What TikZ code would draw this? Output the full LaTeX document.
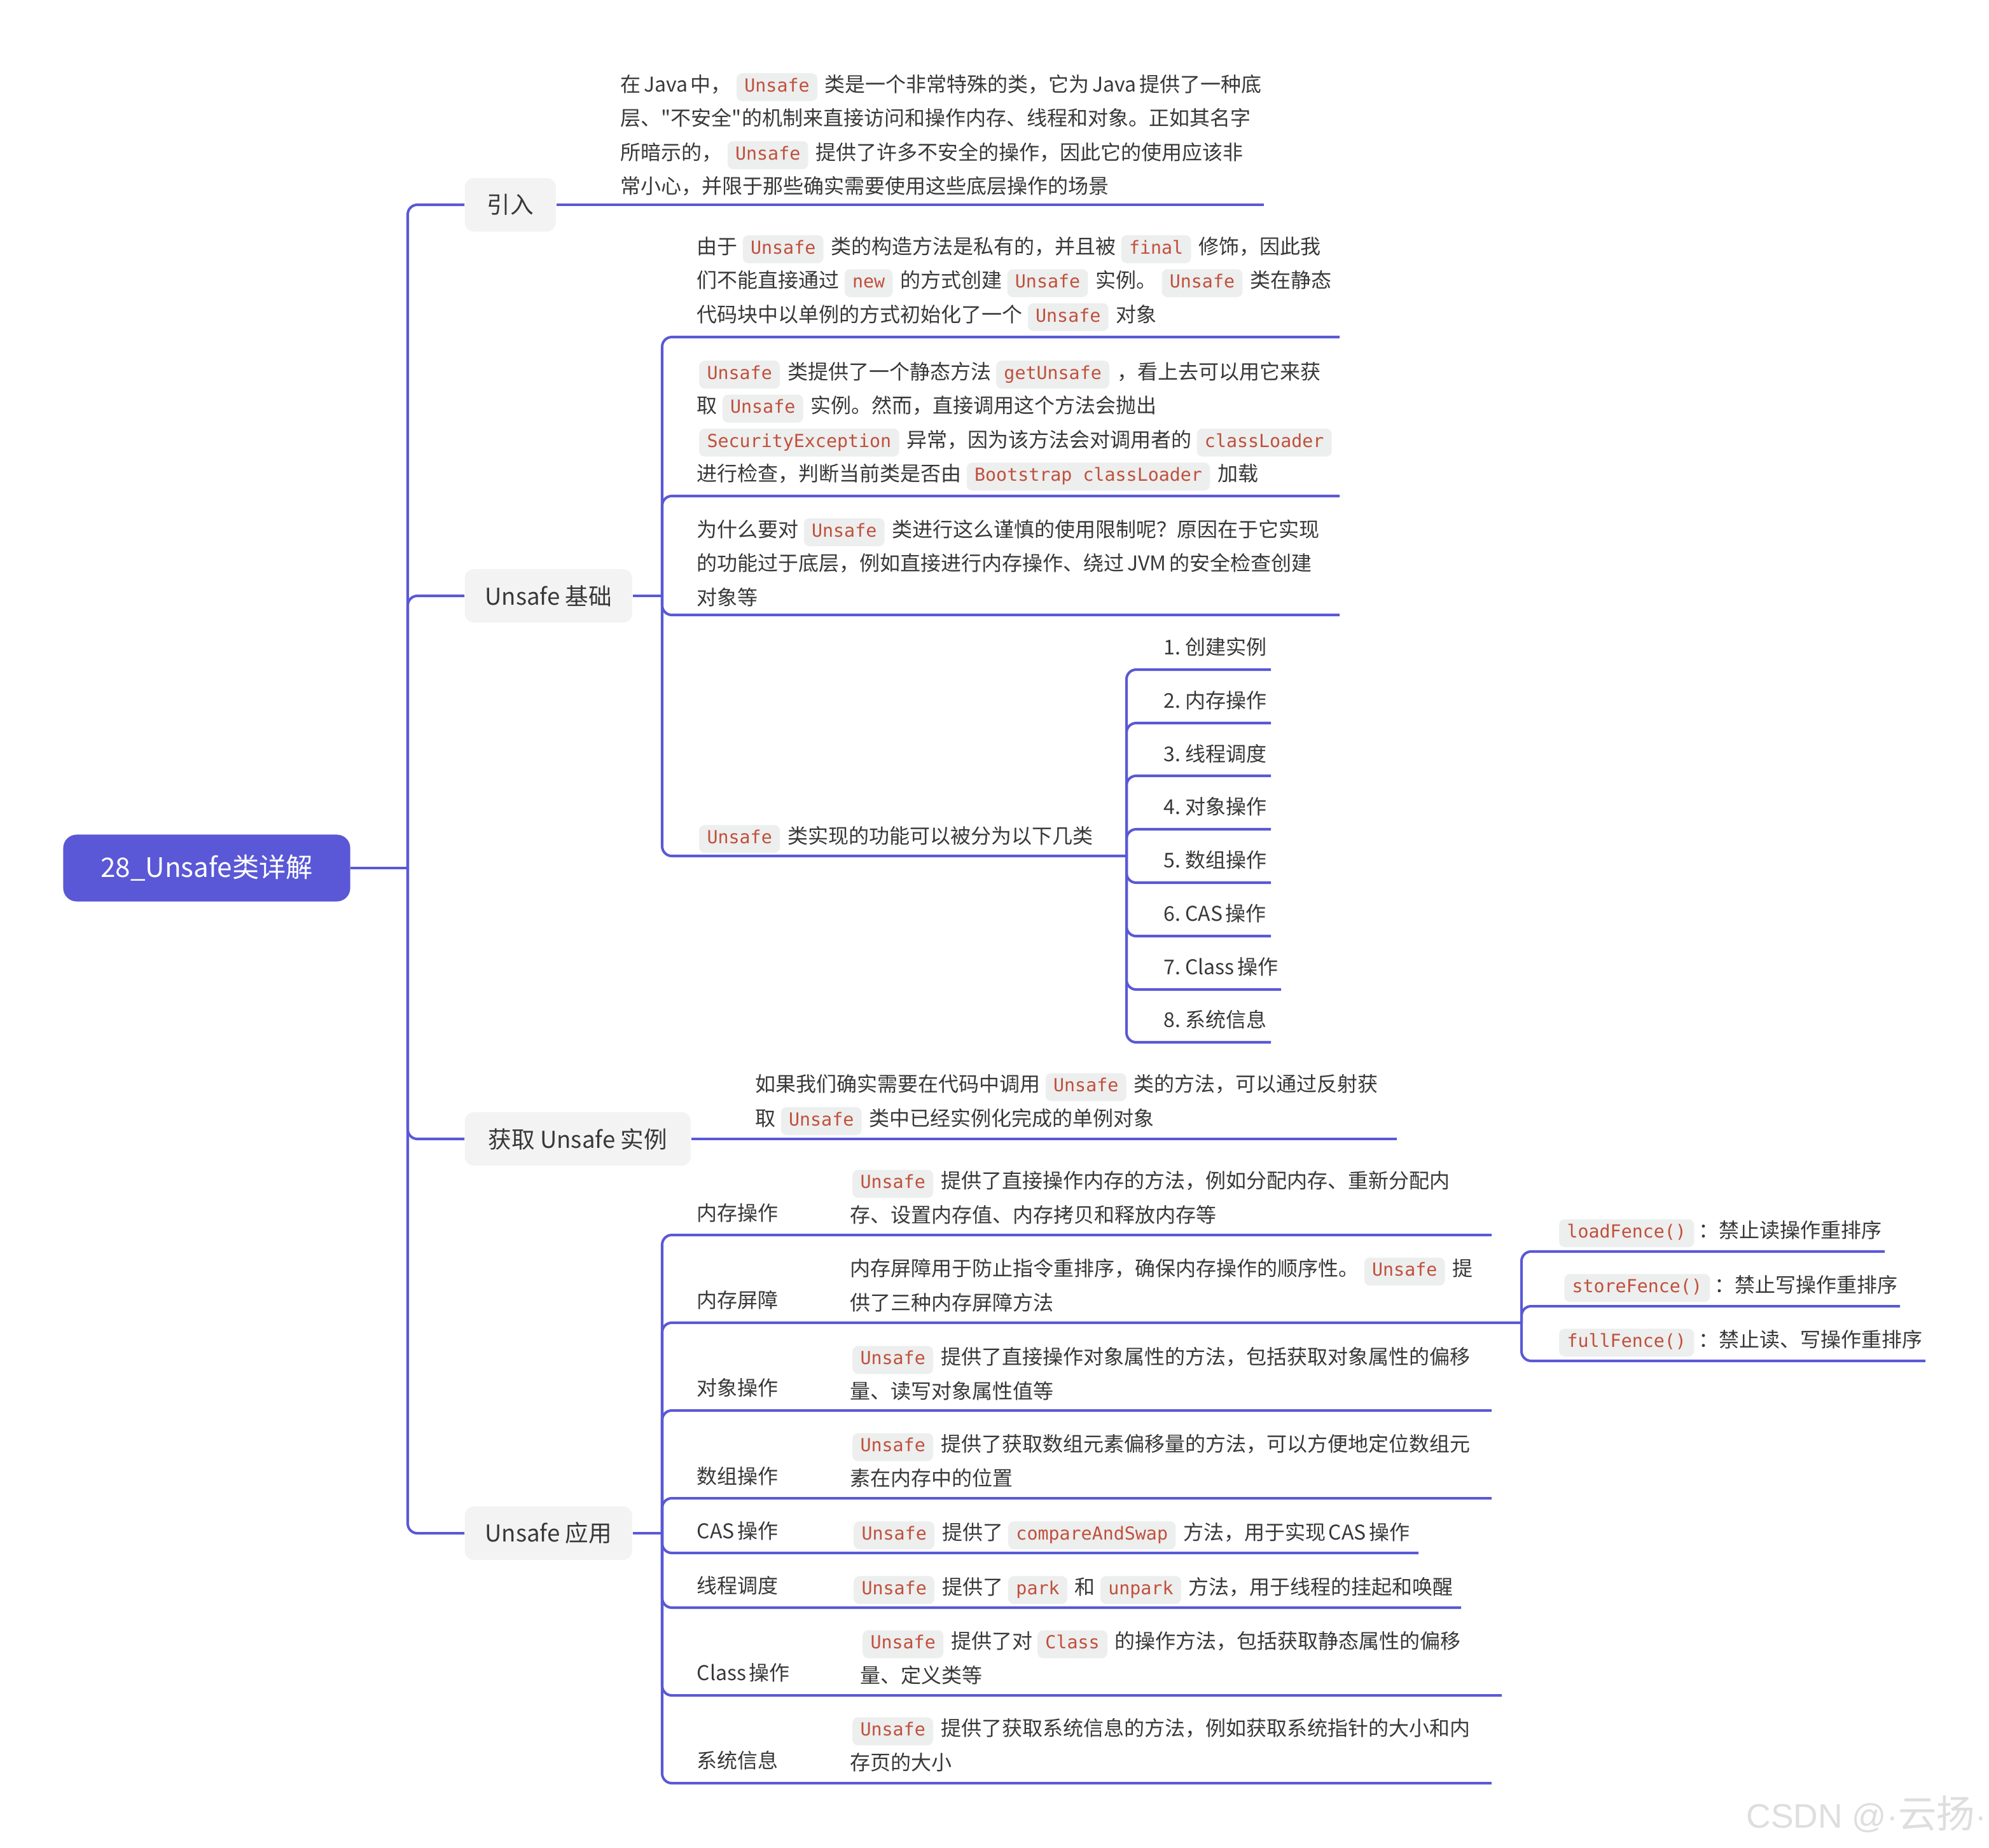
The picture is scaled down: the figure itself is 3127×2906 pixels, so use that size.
\documentclass[tikz,border=0pt]{standalone}
\usepackage{fontspec}
\setmainfont{Noto Sans CJK SC}[Ligatures=TeXOff]
\setmonofont{DejaVu Sans Mono}
\newfontfamily\markfont{Liberation Sans}
\newfontfamily\cjk{Noto Sans CJK SC}
\definecolor{branchblue}{HTML}{5A58D6}
\definecolor{topicgray}{HTML}{F3F3F3}
\definecolor{tagfill}{HTML}{EDEEEE}
\definecolor{tagred}{HTML}{C0503C}
\definecolor{bodytext}{HTML}{383838}
\tikzset{
	rootnode/.style={fill=branchblue,text=white,rounded corners=6pt,minimum width=4.51cm,minimum height=1.05cm,inner sep=0pt,font=\fontsize{12}{15}\selectfont},
	topicnode/.style={fill=topicgray,text=bodytext,rounded corners=4pt,anchor=west,minimum height=0.84cm,inner xsep=8pt,inner ysep=0pt,font=\fontsize{10.4}{13}\selectfont},
	textnode/.style={anchor=west,inner sep=0pt,align=left,text=bodytext,font={\fontsize{9.1}{15.2}\selectfont\spaceskip=1.3pt\relax},execute at begin node=\strut,execute at end node=\strut},
	tagbox/.style={fill=tagfill,text=tagred,rounded corners=2.5pt,inner xsep=3.5pt,inner ysep=2.35pt,text height=6pt,text depth=1.8pt,anchor=base,font={\fontsize{8.05}{9}\ttfamily\spaceskip=0pt\relax}},
	branch/.style={draw=branchblue,line width=1.15pt},
	rbranch/.style={branch,rounded corners=4.3pt}
}
\newcommand{\codetag}[1]{\hspace*{1pt}\tikz[baseline=(tag.base)]\node[tagbox](tag){#1};\hspace{2.1pt}}
\begin{document}
\begin{tikzpicture}[x=0.01cm,y=-0.01cm]
\useasboundingbox (0,0) rectangle (3127,2906);
\node[rootnode] (root) at (325,1365) {28\_Unsafe类详解};
\node[topicnode,minimum width=1.43cm] (intro) at (730,322) {引入};
\node[topicnode,minimum width=2.63cm] (basic) at (730,937) {Unsafe 基础};
\node[topicnode,minimum width=3.55cm] (fetch) at (730,1791) {获取 Unsafe 实例};
\node[topicnode,minimum width=2.63cm] (usage) at (730,2411) {Unsafe 应用};
\coordinate (rootJ) at (641,1365);
\coordinate (basicJ) at (1041,937);
\coordinate (usageJ) at (1041,2411);
\coordinate (listJ) at (1771,1346);
\coordinate (fenceJ) at (2392,2080);

\node[textnode] (introT) at (975,218) {在 Java 中， \codetag{Unsafe} 类是一个非常特殊的类，它为 Java 提供了一种底\\层、"不安全"的机制来直接访问和操作内存、线程和对象。正如其名字\\所暗示的， \codetag{Unsafe} 提供了许多不安全的操作，因此它的使用应该非\\常小心，并限于那些确实需要使用这些底层操作的场景};
\node[textnode] (basicA) at (1095,446) {由于 \codetag{Unsafe} 类的构造方法是私有的，并且被 \codetag{final} 修饰，因此我\\们不能直接通过 \codetag{new} 的方式创建 \codetag{Unsafe} 实例。 \codetag{Unsafe} 类在静态\\代码块中以单例的方式初始化了一个 \codetag{Unsafe} 对象};
\node[textnode] (basicB) at (1095,670) {\codetag{Unsafe} 类提供了一个静态方法 \codetag{getUnsafe} ，看上去可以用它来获\\取 \codetag{Unsafe} 实例。然而，直接调用这个方法会抛出\\\codetag{SecurityException} 异常，因为该方法会对调用者的 \codetag{classLoader}\\进行检查，判断当前类是否由 \codetag{Bootstrap classLoader} 加载};
\node[textnode] (basicC) at (1095,891) {为什么要对 \codetag{Unsafe} 类进行这么谨慎的使用限制呢？原因在于它实现\\的功能过于底层，例如直接进行内存操作、绕过 JVM 的安全检查创建\\对象等};
\node[textnode] (basicD) at (1095,1316) {\codetag{Unsafe} 类实现的功能可以被分为以下几类};

\node[textnode] (listA) at (1829,1019) {1. 创建实例};
\node[textnode] (listB) at (1829,1103) {2. 内存操作};
\node[textnode] (listC) at (1829,1187) {3. 线程调度};
\node[textnode] (listD) at (1829,1270) {4. 对象操作};
\node[textnode] (listE) at (1829,1354) {5. 数组操作};
\node[textnode] (listF) at (1829,1438) {6. CAS 操作};
\node[textnode] (listG) at (1829,1522) {7. Class 操作};
\node[textnode] (listH) at (1829,1605) {8. 系统信息};

\node[textnode] (fetchT) at (1187,1737) {如果我们确实需要在代码中调用 \codetag{Unsafe} 类的方法，可以通过反射获\\取 \codetag{Unsafe} 类中已经实例化完成的单例对象};

\node[textnode] (memL) at (1095,1909) {内存操作};
\node[textnode] (fenL) at (1095,2046) {内存屏障};
\node[textnode] (objL) at (1095,2184) {对象操作};
\node[textnode] (arrL) at (1095,2323) {数组操作};
\node[textnode] (casL) at (1095,2409) {CAS 操作};
\node[textnode] (thrL) at (1095,2495) {线程调度};
\node[textnode] (claL) at (1095,2632) {Class 操作};
\node[textnode] (sysL) at (1095,2770) {系统信息};

\node[textnode] (memT) at (1336,1889) {\codetag{Unsafe} 提供了直接操作内存的方法，例如分配内存、重新分配内\\存、设置内存值、内存拷贝和释放内存等};
\node[textnode] (fenT) at (1336,2027) {内存屏障用于防止指令重排序，确保内存操作的顺序性。 \codetag{Unsafe} 提\\供了三种内存屏障方法};
\node[textnode] (objT) at (1336,2166) {\codetag{Unsafe} 提供了直接操作对象属性的方法，包括获取对象属性的偏移\\量、读写对象属性值等};
\node[textnode] (arrT) at (1336,2303) {\codetag{Unsafe} 提供了获取数组元素偏移量的方法，可以方便地定位数组元\\素在内存中的位置};
\node[textnode] (casT) at (1338,2411) {\codetag{Unsafe} 提供了 \codetag{compareAndSwap} 方法，用于实现 CAS 操作};
\node[textnode] (thrT) at (1338,2497) {\codetag{Unsafe} 提供了 \codetag{park} 和 \codetag{unpark} 方法，用于线程的挂起和唤醒};
\node[textnode] (claT) at (1352,2613) {\codetag{Unsafe} 提供了对 \codetag{Class} 的操作方法，包括获取静态属性的偏移\\量、定义类等};
\node[textnode] (sysT) at (1336,2750) {\codetag{Unsafe} 提供了获取系统信息的方法，例如获取系统指针的大小和内\\存页的大小};

\node[textnode] (loadT) at (2447,1936) {\codetag{loadFence()}：禁止读操作重排序};
\node[textnode] (storeT) at (2455,2022) {\codetag{storeFence()}：禁止写操作重排序};
\node[textnode] (fullT) at (2447,2108) {\codetag{fullFence()}：禁止读、写操作重排序};

\node[anchor=base west,inner sep=0pt,text=black!13,font=\fontsize{15.2}{20}\markfont] (mark) at (2745,2874) {CSDN @·{\fontsize{17.2}{20}\cjk 云扬}·};

\coordinate (introE) at (1987,322);
\coordinate (basicAE) at (2106,530);
\coordinate (basicBE) at (2106,780);
\coordinate (basicCE) at (2106,967);
\coordinate (fetchE) at (2196,1791);
\coordinate (memE) at (2345,1942);
\coordinate (objE) at (2345,2218);
\coordinate (arrE) at (2345,2356);
\coordinate (casE) at (2230,2442);
\coordinate (thrE) at (2297,2528);
\coordinate (claE) at (2361,2666);
\coordinate (sysE) at (2345,2804);
\coordinate (listAE) at (1998,1053);
\coordinate (listBE) at (1998,1137);
\coordinate (listCE) at (1998,1220);
\coordinate (listDE) at (1998,1304);
\coordinate (listEE) at (1998,1388);
\coordinate (listFE) at (1998,1472);
\coordinate (listGE) at (2014,1556);
\coordinate (listHE) at (1998,1639);
\coordinate (loadE) at (2963,1968);
\coordinate (storeE) at (2987,2054);
\coordinate (fullE) at (3027,2140);

\draw[branch] (root.east) -- (rootJ);
\draw[rbranch] (rootJ) |- (intro.west);
\draw[rbranch] (rootJ) |- (basic.west);
\draw[rbranch] (rootJ) |- (fetch.west);
\draw[rbranch] (rootJ) |- (usage.west);
\draw[branch] (intro.east) -- (introE);
\draw[branch] (fetch.east) -- (fetchE);
\draw[branch] (basic.east) -- (basicJ);
\draw[branch] (usage.east) -- (usageJ);
\draw[rbranch] (basicJ) |- (basicAE);
\draw[rbranch] (basicJ) |- (basicBE);
\draw[rbranch] (basicJ) |- (basicCE);
\draw[rbranch] (basicJ) |- (listJ);
\draw[rbranch] (listJ) |- (listAE);
\draw[rbranch] (listJ) |- (listBE);
\draw[rbranch] (listJ) |- (listCE);
\draw[rbranch] (listJ) |- (listDE);
\draw[rbranch] (listJ) |- (listEE);
\draw[rbranch] (listJ) |- (listFE);
\draw[rbranch] (listJ) |- (listGE);
\draw[rbranch] (listJ) |- (listHE);
\draw[rbranch] (usageJ) |- (memE);
\draw[rbranch] (usageJ) |- (fenceJ);
\draw[rbranch] (usageJ) |- (objE);
\draw[rbranch] (usageJ) |- (arrE);
\draw[rbranch] (usageJ) |- (casE);
\draw[rbranch] (usageJ) |- (thrE);
\draw[rbranch] (usageJ) |- (claE);
\draw[rbranch] (usageJ) |- (sysE);
\draw[rbranch] (fenceJ) |- (loadE);
\draw[rbranch] (fenceJ) |- (storeE);
\draw[rbranch] (fenceJ) |- (fullE);
\end{tikzpicture}
\end{document}
